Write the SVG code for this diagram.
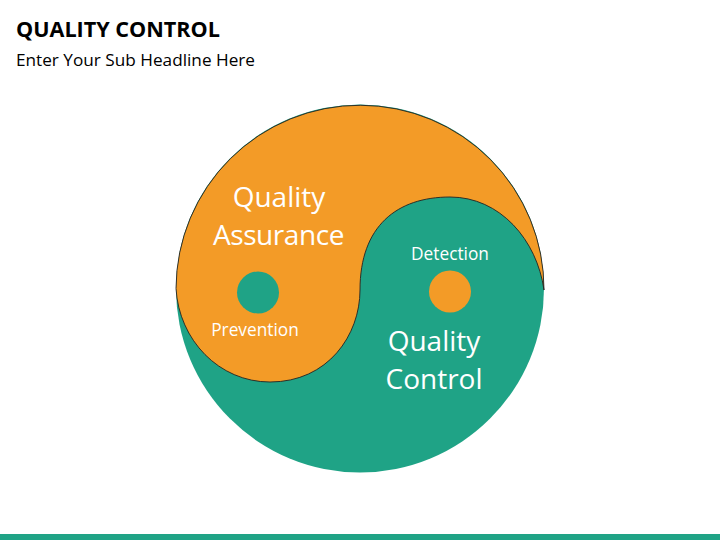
<svg xmlns="http://www.w3.org/2000/svg" width="720" height="540" viewBox="0 0 720 540">
<style>
text{font-family:"Open Sans","Noto Sans","DejaVu Sans",sans-serif}
.w{fill:#fff;text-anchor:middle}
.big{font-size:28px}
.small{font-size:17.3px}
.o{fill:#f39b27}
.g{fill:#1fa386}
</style>
<rect width="720" height="540" fill="#fff"/>
<rect x="0" y="534" width="720" height="6" class="g"/>
<text x="16" y="37" font-size="21.6" font-weight="700" fill="#000">QUALITY CONTROL</text>
<text x="16" y="66" font-size="17.2" fill="#000">Enter Your Sub Headline Here</text>
<g id="quality-control"><circle cx="360" cy="288.500" r="184" class="g"/></g>
<g id="quality-assurance"><path d="M176 288.500C179 340 219 382 270 382C328 382 360 335 360 290C360 226 397 197 450 197C500 197 537 240 544 290A184 184 0 0 0 176 288.500Z" class="o" stroke="#222" stroke-width="0.9"/></g>
<g id="prevention"><circle cx="258" cy="292.500" r="21" class="g"/><text x="255" y="336" class="w small">Prevention</text></g>
<g id="detection"><circle cx="450" cy="291.500" r="21" class="o"/><text x="450" y="259.500" class="w small">Detection</text></g>
<g id="label-qa"><text x="279" y="207" class="w big">Quality</text><text x="278.500" y="245" class="w big" letter-spacing="-0.45">Assurance</text></g>
<g id="label-qc"><text x="434" y="351" class="w big">Quality</text><text x="434" y="389" class="w big">Control</text></g>
</svg>
